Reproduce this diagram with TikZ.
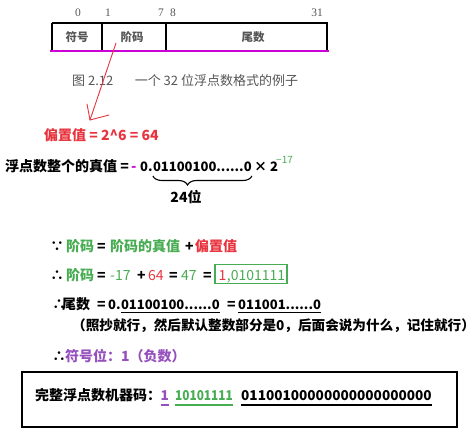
\documentclass[tikz,border=0pt]{standalone}
\usepackage{fontspec}
\setmainfont{Noto Sans CJK SC}
\newfontfamily\serifnum{Liberation Serif}
\usetikzlibrary{decorations.pathreplacing}
\definecolor{cgreen}{RGB}{72,172,82}
\definecolor{cred}{RGB}{232,52,62}
\definecolor{cpurple}{RGB}{150,80,190}
\definecolor{cmag}{RGB}{204,0,214}
\definecolor{cgray}{RGB}{85,85,85}
\tikzset{
  t/.style={inner sep=0pt, anchor=base west, font=\bfseries\fontsize{14}{16}\selectfont},
  dg/.style={inner sep=0pt, anchor=base west, font=\bfseries\fontsize{13}{16}\selectfont},
  tn/.style={inner sep=0pt, anchor=base west, font=\fontsize{14}{16}\selectfont},
  fd/.style={inner sep=0pt, anchor=base west, font=\bfseries\fontsize{13.6}{16}\selectfont},
  tabtxt/.style={inner sep=0pt, text=cgray, font=\bfseries\fontsize{11.5}{13}\selectfont},
  bitn/.style={inner sep=0pt, anchor=base, text=cgray, font=\serifnum\fontsize{11.5}{13}\selectfont},
  captxt/.style={inner sep=0pt, anchor=base west, text=cgray, font=\fontsize{13}{15}\selectfont},
  suptxt/.style={inner sep=0pt, anchor=base west, text=cgreen, font=\fontsize{10}{12}\selectfont},
  uline/.style={line width=1.2pt},
  redpen/.style={cred, line width=0.9pt, line cap=round, line join=round}
}
\begin{document}
\begin{tikzpicture}[x=1pt,y=-1pt]
\useasboundingbox (0,0) rectangle (474,440);
% ---- format table ----
\draw[line width=1.1pt] (52,22.5) -- (52,51);
\draw[line width=1.1pt] (102,22.5) -- (102,51);
\draw[line width=1.1pt] (166,22.5) -- (166,51);
\draw[line width=1.1pt] (327,22.5) -- (327,51);
\draw[line width=2pt] (51.5,22.5) -- (327.5,22.5);
\draw[cmag, line width=2.6pt] (49.5,51) -- (328.5,51);
\node[tabtxt] (fh) at (77,37.5) {符号};
\node[tabtxt] (jmt) at (132,37.5) {阶码};
\node[tabtxt] (ws) at (253,37.5) {尾数};
\node[bitn] (b0) at (78,16.8) {0};
\node[bitn] (b1) at (108,16.8) {1};
\node[bitn] (b7) at (161,16.8) {7};
\node[bitn] (b8) at (173,16.8) {8};
\node[bitn] (b31) at (317,16.8) {31};
\node[captxt] (caption) at (72,85) {图 2.12\hspace{1.65em}一个 32 位浮点数格式的例子};
% ---- red arrow ----
\coordinate (as) at (116,43);
\coordinate (at) at (90,120);
\coordinate (aw1) at (87,104);
\coordinate (aw2) at (109,115);
\draw[redpen] (as) -- (at);
\draw[redpen] (aw1) -- (at) -- (aw2);
\node[t, text=cred] (bias) at (44,140) {偏置值 = 2\textasciicircum 6 = 64};
% ---- real value ----
\node[t] (rv) at (5,171) {浮点数整个的真值 =};
\node[t, text=cmag] (neg) at (131,171) {-};
\node[dg] (z0) at (140,171) {0.};
\node[dg] (mant) at (z0.base east) {01100100......0};
\node[dg] (times) at (254,171) {× 2};
\node[suptxt] (e17) at (276,163) {−17};
\draw[decorate, decoration={brace, mirror, amplitude=9pt, aspect=0.35}, line width=1.1pt]
  ([yshift=-5pt]mant.base west) -- ([yshift=-5pt]mant.base east);
\node[t, anchor=base] (w24) at (186,202) {24位};
% ---- because ----
\node[t] (since) at (50,251) {∵};
\node[t, text=cgreen] (jm1) at (66,251) {阶码};
\node[t] (eq1) at (97,251) {=};
\node[t, text=cgreen] (jmz) at (110,251) {阶码的真值};
\node[t] (plus1) at (185,251) {+};
\node[t, text=cred] (bz1) at (195,251) {偏置值};
% ---- therefore exponent ----
\node[t] (so1) at (50,280) {∴};
\node[t, text=cgreen] (jm2) at (66,280) {阶码};
\node[t] (eq2) at (97,280) {=};
\node[tn, text=cgreen] (m17) at (110,280) {-17};
\node[t] (plus2) at (137,280) {+};
\node[tn, text=cred] (n64) at (148,280) {64};
\node[t] (eq3) at (169,280) {=};
\node[tn, text=cgreen] (n47) at (181,280) {47};
\node[t] (eq4) at (203,280) {=};
\node[draw=cgreen, line width=1.4pt, minimum width=72pt, minimum height=19pt, inner sep=0pt] (gbox) at (251,274) {};
\node[tn, text=cred] (one) at (218.5,280) {1};
\node[tn, text=cgreen] (expb) at (one.base east) {,0101111};
% ---- therefore mantissa ----
\node[t] (so2) at (52,309) {∴};
\node[t] (wsl) at (62,309) {尾数};
\node[t] (eq5) at (97,309) {=};
\node[dg] (z1) at (108,309) {0.};
\node[dg] (mant2) at (z1.base east) {01100100......0};
\node[t] (eq6) at (227,309) {=};
\node[dg] (mant3) at (238,309) {011001......0};
\draw[uline] ([yshift=-3.5pt]mant2.base west) -- ([yshift=-3.5pt]mant2.base east);
\draw[uline] ([yshift=-3.5pt]mant3.base west) -- ([yshift=-3.5pt]mant3.base east);
\node[t, font=\bfseries\fontsize{13.6}{16}\selectfont] (note) at (72,330) {（照抄就行，然后默认整数部分是0，后面会说为什么，记住就行）};
% ---- sign ----
\node[t] (so3) at (52,361) {∴};
\node[t, text=cpurple] (sign) at (65,361) {符号位：1（负数）};
% ---- machine code box ----
\node[draw, line width=1.6pt, minimum width=435pt, minimum height=55pt, inner sep=0pt] (mbox) at (239.5,399.5) {};
\node[t] (mc) at (35,400) {完整浮点数机器码：};
\node[fd, text=cpurple] (s1) at (160.5,400) {1};
\node[fd, text=cgreen, xscale=0.87] (e1) at (175,400) {10101111};
\node[fd] (f1) at (241,400) {01100100000000000000000};
\draw[uline, cpurple] ([yshift=-5pt]s1.base west) -- ([yshift=-5pt]s1.base east);
\draw[uline, cgreen] ([yshift=-5pt]e1.base west) -- ([yshift=-5pt]e1.base east);
\draw[uline] ([yshift=-5pt]f1.base west) -- ([yshift=-5pt]f1.base east);
\end{tikzpicture}
\end{document}
